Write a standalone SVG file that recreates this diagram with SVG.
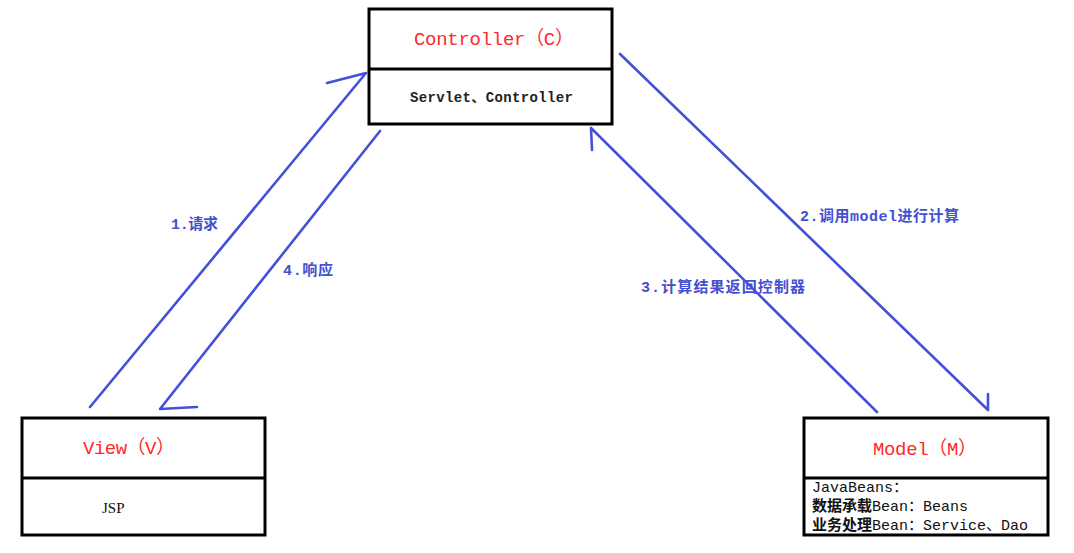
<svg xmlns="http://www.w3.org/2000/svg" width="1074" height="553" viewBox="0 0 1074 553">
<style>
.box{fill:#fff;stroke:#000;stroke-width:3}
.div{stroke:#000;stroke-width:3}
.title{font-family:"Liberation Mono","Noto Sans CJK SC",monospace;font-size:19px;fill:#ff2a2a}
.sub{font-family:"Liberation Mono","Noto Sans CJK SC",monospace;font-size:14px;font-weight:bold;fill:#222}
.mt{font-family:"Liberation Mono","Noto Sans CJK SC",monospace;font-size:15px;fill:#111}
.lbl{font-family:"Liberation Mono","Noto Sans CJK SC",monospace;font-size:15px;font-weight:bold;fill:#4450d0}
.ln{fill:none;stroke:#4450d8;stroke-width:2.6;stroke-linecap:round;stroke-linejoin:round}
</style>
<rect width="1074" height="553" fill="#fff"/>
<g id="controller">
<rect class="box" x="369" y="9" width="243" height="115"/>
<line class="div" x1="369" y1="69" x2="612" y2="69"/>
<text class="title" x="414" y="45" textLength="160">Controller（C）</text>
<text class="sub" x="410" y="102" textLength="163">Servlet、Controller</text>
</g>
<g id="view">
<rect class="box" x="22" y="418" width="243" height="117"/>
<line class="div" x1="22" y1="478" x2="265" y2="478"/>
<text class="title" x="83" y="454" textLength="92">View（V）</text>
<text x="102" y="513" style="font-family:'Liberation Serif',serif;font-size:15px;fill:#111">JSP</text>
</g>
<g id="model">
<rect class="box" x="804" y="418" width="244" height="117"/>
<line class="div" x1="804" y1="478" x2="1048" y2="478"/>
<text class="title" x="873" y="455" textLength="104">Model（M）</text>
<text class="mt" x="812" y="492">JavaBeans：</text>
<text class="mt" x="812" y="511" font-weight="bold">数据承载<tspan font-weight="normal">Bean：Beans</tspan></text>
<text class="mt" x="812" y="530" font-weight="bold">业务处理<tspan font-weight="normal">Bean：Service、Dao</tspan></text>
</g>
<g id="connectors">
<polyline class="ln" points="90,407 366,73 327,83"/>
<polyline class="ln" points="380,131 160,409 197,407"/>
<polyline class="ln" points="620,54 988,410 988,394"/>
<polyline class="ln" points="877,412 591,128 592,150"/>
<text class="lbl" x="171" y="229" textLength="47">1.请求</text>
<text class="lbl" x="283" y="275" textLength="50">4.响应</text>
<text class="lbl" x="800" y="221" textLength="159">2.调用model进行计算</text>
<text class="lbl" x="641" y="292" textLength="164">3.计算结果返回控制器</text>
</g>
</svg>
